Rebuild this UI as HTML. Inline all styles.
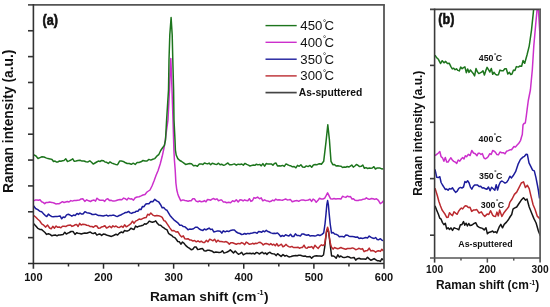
<!DOCTYPE html>
<html><head><meta charset="utf-8"><style>
html,body{margin:0;padding:0;background:#fff;}
svg{display:block;filter:blur(0.3px);}
text{font-family:"Liberation Sans",Arial,sans-serif;fill:#111;}
.lg{font-size:13.2px;}
.rg{font-size:9px;}
.rgb{font-size:8px;font-weight:bold;}
.lgb{font-size:10.3px;font-weight:bold;}
.tka{font-size:11px;font-weight:bold;}
.tkb{font-size:10.2px;font-weight:bold;}
.xla{font-size:13.7px;font-weight:bold;}
.xlb{font-size:11.95px;font-weight:bold;}
.sup{font-size:7.2px;}
.supb{font-size:6.4px;}
.yl{font-size:13.8px;font-weight:bold;}
.ylb{font-size:12.05px;font-weight:bold;}
.pl{font-size:15px;font-weight:bold;stroke:#111;stroke-width:0.6px;}
.an{font-size:8.8px;font-weight:bold;}
.an2{font-size:8.8px;font-weight:bold;}
</style></head><body>
<svg width="550" height="307" viewBox="0 0 550 307">
<defs><clipPath id="ca"><rect x="33.4" y="4.9" width="350.6" height="258.6"/></clipPath><clipPath id="cb"><rect x="434.6" y="9.4" width="105.5" height="248.6"/></clipPath></defs>
<g clip-path="url(#ca)">
<path d="M33.5,223.5 L35.6,225.7 L37.8,228.3 L39.8,229.4 L41.7,229.6 L43.3,231.0 L45.0,232.5 L46.6,234.4 L48.4,233.7 L50.1,234.4 L51.9,235.8 L53.6,235.3 L55.4,235.0 L57.0,235.8 L58.5,235.0 L60.1,235.0 L61.6,234.7 L63.2,234.4 L64.8,232.3 L66.3,234.0 L67.9,233.1 L69.4,232.5 L71.0,231.5 L73.0,231.4 L75.0,234.4 L76.6,232.7 L78.1,233.2 L79.7,233.4 L81.2,234.0 L82.8,233.5 L84.8,233.1 L86.7,233.3 L88.7,232.5 L90.3,232.1 L91.9,233.2 L93.5,233.5 L95.2,232.8 L96.8,235.1 L98.4,234.3 L100.0,234.0 L101.6,235.4 L103.3,234.1 L104.9,234.3 L106.5,235.0 L108.2,235.6 L109.8,236.0 L111.4,236.4 L112.9,235.8 L114.5,235.0 L116.0,234.3 L117.6,235.0 L119.5,233.0 L121.5,232.0 L123.1,232.7 L124.6,230.5 L126.2,231.1 L127.7,230.9 L129.3,230.1 L130.9,228.2 L132.5,229.0 L134.0,229.5 L135.6,226.0 L137.2,227.2 L139.1,226.2 L141.1,225.8 L143.0,225.2 L144.6,223.8 L146.1,224.2 L147.7,223.0 L149.2,221.1 L150.8,221.7 L152.4,222.2 L154.1,221.8 L155.7,220.9 L157.3,223.2 L159.0,225.1 L160.6,225.2 L162.2,226.8 L163.9,227.9 L165.5,229.1 L167.0,229.7 L168.5,233.3 L170.0,234.5 L171.6,235.3 L173.1,236.9 L174.7,237.6 L176.2,239.2 L177.8,241.5 L179.4,241.8 L180.9,244.2 L182.5,242.0 L184.0,243.3 L185.6,245.4 L187.6,247.1 L189.6,248.4 L191.2,249.8 L192.8,249.2 L194.4,247.1 L196.1,247.0 L197.7,249.5 L199.3,249.3 L200.9,248.8 L202.6,248.6 L204.2,250.7 L205.8,251.0 L207.5,250.3 L209.1,250.3 L210.8,250.8 L212.4,251.3 L214.1,252.6 L215.8,252.0 L217.5,252.2 L219.1,252.5 L220.8,252.3 L222.4,250.7 L224.0,253.1 L225.5,252.6 L227.1,252.0 L228.7,251.3 L230.3,249.9 L231.9,251.4 L233.5,253.0 L235.2,251.0 L236.8,252.8 L238.4,254.2 L240.0,253.6 L241.7,252.4 L243.3,254.9 L245.0,253.9 L246.7,253.2 L248.3,253.6 L250.0,253.2 L251.5,253.8 L253.1,253.2 L254.6,254.1 L256.2,252.5 L257.7,252.7 L259.2,254.0 L260.8,253.0 L262.3,252.2 L263.9,253.8 L265.4,252.9 L266.9,254.4 L268.4,252.9 L270.0,252.3 L271.5,253.6 L273.0,253.8 L274.5,253.9 L276.1,255.6 L277.6,253.7 L279.1,254.8 L281.1,256.4 L283.0,254.6 L285.0,256.2 L286.5,255.4 L288.0,256.5 L289.6,256.9 L291.1,256.5 L292.6,256.0 L294.1,255.7 L295.7,255.6 L297.2,255.8 L298.7,255.2 L300.3,255.2 L301.9,255.8 L303.5,256.3 L305.2,255.9 L306.8,256.8 L308.4,256.8 L310.0,256.5 L311.6,258.2 L313.3,256.6 L314.9,255.9 L316.5,255.8 L318.2,256.1 L319.8,256.0 L321.6,256.3 L323.5,255.0 L324.8,246.5 L325.6,239.0 L326.5,232.0 L327.6,229.0 L328.6,232.0 L329.5,239.0 L330.4,246.5 L331.6,256.0 L333.1,255.9 L334.7,256.7 L336.2,258.3 L337.8,254.8 L339.3,257.0 L340.9,256.0 L342.5,257.2 L344.1,257.4 L345.8,257.2 L347.4,256.6 L349.0,257.0 L350.7,257.9 L352.4,257.8 L354.1,257.4 L355.7,260.1 L357.4,258.7 L359.1,258.2 L360.8,259.0 L362.5,259.0 L364.1,258.9 L365.8,259.2 L367.5,257.3 L369.2,258.9 L370.8,260.3 L372.5,259.5 L374.1,258.6 L375.6,259.7 L377.2,260.7 L378.8,260.7 L380.4,261.4 L381.9,258.7 L383.5,260.3" fill="none" stroke="#151515" stroke-width="1.5" stroke-linejoin="round"/>
<path d="M33.5,215.4 L35.6,217.0 L37.8,219.3 L39.8,221.0 L41.7,223.8 L43.7,225.2 L45.7,227.1 L47.6,225.1 L49.6,228.0 L51.2,228.8 L52.8,226.4 L54.5,228.1 L56.1,226.0 L57.7,227.3 L59.3,227.0 L60.9,227.8 L62.5,226.3 L64.2,226.3 L65.8,226.5 L67.4,225.6 L69.0,225.2 L70.5,225.0 L72.0,226.4 L73.5,225.8 L75.0,224.8 L76.6,224.4 L78.1,226.5 L79.7,223.4 L81.2,225.1 L82.8,224.2 L84.8,224.4 L86.7,225.3 L88.7,225.6 L90.3,226.6 L91.9,226.5 L93.5,227.2 L95.2,225.7 L96.8,226.0 L98.4,228.3 L100.0,228.1 L101.6,226.9 L103.3,226.5 L104.9,225.8 L106.5,228.0 L108.2,227.2 L109.8,226.2 L111.4,227.7 L112.9,225.8 L114.5,226.8 L116.0,226.0 L117.6,227.2 L119.5,227.4 L121.5,226.2 L123.1,227.4 L124.6,224.8 L126.2,226.8 L127.7,226.0 L129.3,224.8 L130.9,223.7 L132.5,221.2 L134.0,223.4 L135.6,221.1 L137.2,220.3 L139.1,219.1 L141.1,219.4 L143.0,218.4 L144.6,217.7 L146.1,217.6 L147.7,214.2 L149.2,215.1 L150.8,213.0 L152.8,215.1 L154.7,215.9 L156.7,215.4 L158.6,215.7 L160.6,216.4 L162.2,217.4 L163.9,220.6 L165.5,221.3 L167.0,223.7 L168.5,225.9 L170.0,228.1 L172.0,230.7 L173.9,230.5 L175.9,232.0 L177.8,231.7 L179.8,234.9 L181.7,236.9 L183.3,235.8 L184.9,238.8 L186.4,239.0 L188.0,238.7 L189.6,239.9 L191.3,240.1 L192.9,241.0 L194.6,240.5 L196.3,241.8 L198.0,240.8 L199.6,242.0 L201.3,241.2 L203.0,242.5 L204.6,242.5 L206.3,240.4 L208.0,241.8 L209.7,239.2 L211.3,239.9 L213.0,240.8 L214.6,239.2 L216.3,242.1 L217.9,240.2 L219.5,241.5 L221.2,241.5 L222.8,241.8 L224.4,241.9 L226.1,241.6 L227.7,242.5 L229.3,244.1 L231.0,242.7 L232.6,242.8 L234.4,243.5 L236.3,244.2 L238.2,243.4 L240.0,243.8 L241.6,242.6 L243.1,243.2 L244.7,244.6 L246.2,242.1 L247.8,243.0 L249.4,244.3 L250.9,244.1 L252.5,243.3 L254.0,244.0 L255.6,243.2 L257.1,243.5 L258.6,242.5 L260.2,242.3 L261.7,243.3 L263.2,244.9 L264.7,243.8 L266.3,243.6 L267.8,243.9 L269.3,244.8 L270.8,243.6 L272.3,245.0 L273.8,244.2 L275.3,245.7 L276.8,243.6 L278.3,246.0 L279.9,245.2 L281.4,244.2 L282.9,246.8 L284.4,246.0 L285.9,244.4 L287.4,245.8 L288.9,246.7 L290.4,247.0 L291.9,246.4 L293.4,247.5 L294.9,247.5 L296.4,247.5 L297.9,247.2 L299.4,248.2 L301.0,247.6 L302.5,247.4 L304.0,245.2 L305.5,247.9 L307.0,248.3 L308.5,246.9 L310.0,247.2 L311.6,246.6 L313.3,248.6 L314.9,245.2 L316.5,247.0 L318.2,248.4 L319.8,246.3 L321.4,244.8 L323.0,245.6 L324.6,244.3 L325.6,238.0 L326.5,231.0 L327.6,227.3 L328.6,231.0 L329.5,238.0 L330.5,244.0 L331.5,247.2 L333.1,249.1 L334.6,247.5 L336.2,248.3 L337.7,248.8 L339.3,248.2 L340.9,247.5 L342.5,248.3 L344.1,248.7 L345.8,249.2 L347.4,248.5 L349.0,248.6 L350.7,248.5 L352.4,247.9 L354.1,248.5 L355.7,249.7 L357.4,249.1 L359.1,248.3 L360.8,249.2 L362.5,248.6 L364.1,251.6 L365.8,250.8 L367.5,250.5 L369.2,248.1 L370.8,250.9 L372.5,250.5 L374.1,251.0 L375.6,252.2 L377.2,251.1 L378.8,250.8 L380.4,251.4 L381.9,249.3 L383.5,251.1" fill="none" stroke="#bb2a2f" stroke-width="1.5" stroke-linejoin="round"/>
<path d="M33.5,205.6 L35.6,208.5 L37.8,209.6 L39.8,211.3 L41.7,211.8 L43.7,213.9 L45.3,215.6 L46.8,216.5 L48.4,214.1 L49.9,215.3 L51.5,216.4 L53.3,216.7 L55.2,216.6 L57.0,216.5 L58.5,216.3 L60.1,215.9 L61.7,218.8 L63.2,217.0 L64.9,217.4 L66.6,214.9 L68.3,214.3 L70.0,215.0 L71.8,216.2 L73.5,215.1 L75.2,215.5 L77.0,213.5 L78.5,214.4 L80.0,213.0 L81.5,214.1 L83.0,214.0 L84.9,211.7 L86.8,212.7 L88.7,213.0 L90.5,213.4 L92.2,214.5 L94.0,214.5 L95.5,214.1 L97.0,214.8 L98.5,215.6 L100.0,215.4 L101.6,215.7 L103.3,216.0 L104.9,215.6 L106.5,215.1 L108.2,216.1 L109.8,215.4 L111.4,215.6 L112.9,215.1 L114.5,215.4 L116.0,216.2 L117.6,216.4 L119.2,215.5 L120.7,215.0 L122.3,214.1 L123.8,213.4 L125.4,212.5 L127.0,212.4 L128.5,211.4 L130.1,212.9 L131.6,213.4 L133.2,212.5 L134.8,212.3 L136.3,211.2 L137.9,211.2 L139.4,209.3 L141.0,209.6 L142.5,206.4 L144.0,206.7 L145.5,204.3 L147.0,203.7 L148.9,203.7 L150.9,201.4 L152.8,201.7 L154.8,199.3 L156.7,200.8 L158.6,201.8 L160.6,204.7 L162.2,207.8 L163.9,207.6 L165.5,209.6 L167.0,210.3 L168.5,212.8 L170.0,215.4 L172.0,217.8 L173.9,219.8 L175.9,221.3 L177.8,222.8 L179.8,225.2 L181.7,225.2 L183.3,226.6 L184.9,226.7 L186.4,228.1 L188.0,229.8 L189.6,229.1 L191.5,229.3 L193.5,228.8 L195.4,227.2 L197.4,227.2 L199.3,229.0 L201.3,230.1 L202.9,230.4 L204.4,229.0 L206.0,229.9 L207.5,229.0 L209.1,228.1 L210.7,229.5 L212.2,229.1 L213.8,231.9 L215.3,231.6 L216.9,231.1 L218.5,230.9 L220.2,231.2 L221.8,233.1 L223.4,230.8 L225.1,231.9 L226.7,231.1 L228.7,231.6 L230.6,230.4 L232.6,230.1 L234.4,229.9 L236.3,232.0 L238.2,233.0 L240.0,233.5 L241.6,234.5 L243.1,234.2 L244.7,233.5 L246.2,234.2 L247.8,233.4 L249.4,233.7 L250.9,233.3 L252.5,233.0 L254.0,232.5 L255.6,232.6 L257.1,233.2 L258.6,231.5 L260.2,231.8 L261.7,232.3 L263.2,230.9 L264.7,231.8 L266.3,230.3 L267.8,231.5 L269.3,232.0 L270.9,232.9 L272.6,233.4 L274.2,233.3 L275.8,233.5 L277.5,232.9 L279.1,234.6 L280.7,236.5 L282.4,235.5 L284.0,236.3 L285.6,234.7 L287.3,235.6 L288.9,236.0 L290.5,234.3 L292.2,236.5 L293.8,236.5 L295.4,233.9 L297.1,235.5 L298.7,235.4 L300.3,236.1 L301.9,234.0 L303.5,234.0 L305.2,234.8 L306.8,235.3 L308.4,234.7 L310.0,236.0 L311.6,235.8 L313.1,235.7 L314.7,235.9 L316.2,235.7 L317.8,234.8 L319.8,235.5 L321.7,234.6 L323.7,232.9 L325.0,224.0 L326.0,214.0 L326.8,205.0 L327.6,200.6 L328.4,205.0 L329.2,214.0 L330.2,224.0 L331.5,232.9 L333.1,232.5 L334.6,234.0 L336.2,234.3 L337.7,235.1 L339.3,236.8 L340.9,236.6 L342.5,236.6 L344.1,236.9 L345.8,235.0 L347.4,235.2 L349.0,236.2 L350.7,236.5 L352.4,236.6 L354.1,236.7 L355.7,237.2 L357.4,236.9 L359.1,238.5 L360.8,238.1 L362.5,238.4 L364.1,238.0 L365.8,237.5 L367.5,237.9 L369.2,236.1 L370.8,237.2 L372.5,238.1 L374.1,238.5 L375.6,237.5 L377.2,239.4 L378.8,239.7 L380.4,238.7 L381.9,240.1 L383.5,240.7" fill="none" stroke="#1c1c9c" stroke-width="1.5" stroke-linejoin="round"/>
<path d="M33.5,200.8 L35.2,200.1 L37.0,200.0 L38.5,200.3 L40.0,199.8 L41.6,201.7 L43.1,202.4 L44.7,203.7 L46.3,202.4 L48.0,202.4 L49.6,202.0 L51.8,202.4 L54.0,203.0 L55.8,203.9 L57.5,203.7 L59.3,203.7 L60.9,202.6 L62.4,201.7 L64.0,202.5 L65.7,202.0 L67.3,201.5 L69.0,202.0 L70.8,200.6 L72.5,201.1 L74.2,200.4 L76.0,200.5 L77.7,200.2 L79.4,200.1 L81.1,198.9 L82.8,198.8 L84.8,201.4 L86.7,199.8 L88.7,200.8 L90.5,201.5 L92.2,200.4 L94.0,200.0 L95.5,201.1 L97.0,198.2 L98.5,199.5 L100.0,200.3 L101.6,200.2 L103.1,200.2 L104.7,201.4 L106.2,199.4 L107.8,198.8 L109.4,200.4 L110.9,200.3 L112.5,200.9 L114.0,200.9 L115.6,200.8 L117.8,200.0 L120.0,199.5 L121.8,199.7 L123.6,198.1 L125.4,198.8 L126.9,199.9 L128.5,198.0 L130.0,199.0 L131.7,198.8 L133.5,200.1 L135.2,197.8 L137.1,197.0 L139.1,196.7 L141.1,195.9 L143.0,195.0 L145.0,194.5 L147.0,192.0 L148.5,191.0 L150.0,190.0 L152.0,186.0 L154.0,181.0 L156.0,175.5 L158.1,170.5 L160.2,164.0 L162.2,156.3 L164.2,147.0 L165.6,138.0 L166.6,130.0 L168.0,120.0 L169.5,90.0 L170.2,70.0 L170.8,58.5 L171.3,70.0 L172.0,90.0 L173.0,120.0 L173.9,150.0 L174.4,160.0 L175.2,170.0 L175.9,183.0 L176.8,190.0 L177.8,193.9 L178.8,196.7 L180.8,200.8 L182.9,199.9 L185.0,200.5 L186.5,200.8 L188.1,201.2 L189.6,200.8 L191.2,200.8 L192.8,198.8 L194.4,198.8 L196.1,201.1 L197.9,201.8 L199.6,201.0 L201.3,201.7 L202.9,201.6 L204.4,200.6 L206.0,201.8 L207.5,199.5 L209.1,199.8 L210.7,200.2 L212.2,199.0 L213.8,198.6 L215.3,199.6 L216.9,198.8 L218.5,200.7 L220.2,200.1 L221.8,200.1 L223.4,202.1 L225.1,202.0 L226.7,202.7 L228.7,202.3 L230.6,202.8 L232.6,200.8 L234.4,201.6 L236.3,199.8 L238.2,202.0 L240.0,199.8 L241.6,200.0 L243.1,200.9 L244.7,199.8 L246.2,200.6 L247.8,200.8 L249.4,198.7 L250.9,201.4 L252.5,200.5 L254.0,197.6 L255.6,198.2 L257.6,197.1 L259.6,198.8 L261.2,197.8 L262.8,200.8 L264.5,199.8 L266.1,200.7 L267.7,200.9 L269.3,201.7 L270.9,201.3 L272.6,200.1 L274.2,200.8 L275.8,199.1 L277.5,200.1 L279.1,199.8 L280.7,200.1 L282.4,200.2 L284.0,199.6 L285.6,199.0 L287.3,199.9 L288.9,199.8 L290.5,199.6 L292.2,201.7 L293.8,201.2 L295.4,200.7 L297.1,200.6 L298.7,201.3 L300.3,200.4 L301.9,199.9 L303.5,200.1 L305.2,200.4 L306.8,200.3 L308.4,200.0 L310.0,199.2 L311.6,201.4 L313.1,199.1 L314.7,200.1 L316.2,202.3 L317.8,200.6 L319.5,198.3 L321.2,199.0 L322.9,199.0 L324.6,198.3 L326.1,195.7 L327.6,192.8 L330.5,198.7 L332.3,199.1 L334.0,198.5 L335.8,199.0 L337.5,198.7 L339.3,198.7 L340.9,199.1 L342.5,196.3 L344.1,196.9 L345.8,197.4 L347.4,196.1 L349.0,196.7 L350.5,196.6 L352.0,199.0 L353.5,198.7 L355.0,200.2 L356.6,200.6 L358.2,200.5 L359.9,199.9 L361.5,199.9 L363.1,199.2 L364.7,199.1 L366.4,197.8 L368.0,199.0 L369.7,199.3 L371.4,198.4 L373.1,198.7 L374.7,199.4 L376.4,198.7 L378.4,200.4 L380.3,203.6 L381.9,202.7 L383.5,200.6" fill="none" stroke="#cc30cc" stroke-width="1.5" stroke-linejoin="round"/>
<path d="M33.5,154.7 L36.0,156.0 L38.0,158.5 L40.0,157.6 L42.0,156.8 L44.0,157.0 L46.0,157.9 L48.0,158.6 L50.0,158.9 L52.0,159.5 L53.5,161.5 L55.0,161.0 L56.5,162.1 L58.0,161.9 L59.5,160.9 L61.0,161.2 L62.5,160.8 L64.0,160.5 L65.8,158.8 L67.5,161.5 L69.2,160.9 L71.0,160.0 L72.7,158.8 L74.3,161.3 L76.0,161.0 L78.0,160.5 L80.0,160.3 L82.0,161.1 L84.0,161.0 L86.0,161.8 L88.0,161.9 L89.8,160.8 L91.5,162.3 L93.2,164.1 L95.0,163.0 L96.7,162.0 L98.3,161.1 L100.0,161.5 L101.7,160.4 L103.3,160.7 L105.0,162.0 L106.7,162.3 L108.3,163.5 L110.0,161.9 L111.9,163.1 L113.7,163.8 L115.6,164.4 L117.6,164.7 L119.6,161.1 L121.4,161.1 L123.2,161.4 L125.0,162.5 L127.2,163.5 L129.3,163.5 L131.3,164.3 L133.2,163.2 L135.2,164.4 L137.1,162.4 L139.0,162.5 L141.0,161.8 L143.0,160.5 L145.0,161.0 L147.0,161.0 L148.9,159.4 L150.8,160.1 L152.8,159.2 L154.8,158.6 L156.8,156.2 L158.7,154.7 L160.7,150.5 L162.6,147.8 L164.4,145.4 L165.5,140.0 L166.6,120.0 L168.5,90.0 L169.0,60.0 L169.8,35.0 L171.1,17.5 L172.2,35.0 L172.8,60.0 L173.6,90.0 L174.0,120.0 L175.0,140.0 L175.4,150.0 L176.2,155.0 L177.8,158.6 L179.8,160.5 L181.7,161.5 L183.6,162.8 L185.6,164.4 L187.6,163.9 L189.6,163.5 L191.5,163.8 L193.5,165.7 L195.4,165.4 L197.4,166.2 L199.3,164.1 L201.3,163.9 L202.9,164.5 L204.4,162.9 L206.0,163.5 L207.5,163.9 L209.1,163.1 L210.7,164.7 L212.2,163.3 L213.8,163.8 L215.3,164.3 L216.9,164.4 L218.5,163.2 L220.1,164.7 L221.6,164.2 L223.2,165.2 L224.8,165.0 L226.4,163.9 L227.9,163.0 L229.5,164.7 L231.0,164.8 L232.6,164.4 L234.4,163.9 L236.3,165.2 L238.2,164.2 L240.0,164.4 L241.7,164.0 L243.3,165.1 L245.0,163.4 L246.7,164.4 L248.4,165.1 L250.0,166.0 L251.7,165.4 L253.3,165.1 L254.9,165.3 L256.4,164.2 L258.0,164.9 L259.6,164.4 L261.3,165.8 L262.9,163.6 L264.6,166.2 L266.3,163.5 L268.0,164.1 L269.6,164.1 L271.3,163.9 L272.9,165.2 L274.4,163.5 L276.0,163.1 L277.5,166.0 L279.1,165.8 L280.8,166.0 L282.6,165.4 L284.3,166.4 L286.0,163.9 L287.6,164.7 L289.2,165.4 L290.8,165.8 L292.5,166.8 L294.2,166.5 L295.9,167.8 L297.5,165.4 L299.2,166.3 L300.9,164.8 L302.6,167.0 L304.5,167.3 L306.3,165.9 L308.1,166.6 L310.0,165.4 L311.7,167.2 L313.4,165.0 L315.1,164.6 L316.8,164.7 L318.3,164.1 L319.9,163.7 L321.4,164.3 L323.7,161.3 L326.0,141.9 L327.8,124.8 L329.4,139.6 L331.0,161.3 L332.8,164.7 L334.4,164.5 L336.1,165.9 L337.7,165.7 L339.3,166.1 L340.9,166.2 L342.6,167.5 L344.2,167.0 L345.7,167.2 L347.2,166.5 L348.8,167.0 L350.3,166.1 L351.8,165.0 L353.3,167.1 L354.9,166.0 L356.4,164.5 L357.9,165.2 L359.5,166.6 L361.2,166.3 L362.8,165.0 L364.4,168.3 L366.0,167.6 L367.7,168.5 L369.3,168.1 L370.8,168.3 L372.3,168.0 L373.9,166.7 L375.4,169.0 L376.9,168.1 L378.4,168.1 L380.1,168.1 L381.8,168.9 L383.5,168.8" fill="none" stroke="#1d751d" stroke-width="1.5" stroke-linejoin="round"/>
</g>
<path d="M28.00,4.90 L384.90,4.90" stroke="#555" stroke-width="1.7" fill="none"/>
<path d="M384.00,4.90 L384.00,268.70" stroke="#555" stroke-width="1.8" fill="none"/>
<path d="M33.40,4.10 L33.40,268.70" stroke="#333" stroke-width="1.6" fill="none"/>
<path d="M28.00,263.50 L384.00,263.50" stroke="#2a2a2a" stroke-width="1.6" fill="none"/>
<path d="M28.00,237.64 L33.40,237.64" stroke="#333" stroke-width="1.6" fill="none"/>
<path d="M28.00,211.78 L33.40,211.78" stroke="#333" stroke-width="1.6" fill="none"/>
<path d="M28.00,185.92 L33.40,185.92" stroke="#333" stroke-width="1.6" fill="none"/>
<path d="M28.00,160.06 L33.40,160.06" stroke="#333" stroke-width="1.6" fill="none"/>
<path d="M28.00,134.20 L33.40,134.20" stroke="#333" stroke-width="1.6" fill="none"/>
<path d="M28.00,108.34 L33.40,108.34" stroke="#333" stroke-width="1.6" fill="none"/>
<path d="M28.00,82.48 L33.40,82.48" stroke="#333" stroke-width="1.6" fill="none"/>
<path d="M28.00,56.62 L33.40,56.62" stroke="#333" stroke-width="1.6" fill="none"/>
<path d="M28.00,30.76 L33.40,30.76" stroke="#333" stroke-width="1.6" fill="none"/>
<path d="M68.46,263.50 L68.46,266.50" stroke="#2a2a2a" stroke-width="1.5" fill="none"/>
<path d="M103.52,263.50 L103.52,268.70" stroke="#2a2a2a" stroke-width="1.5" fill="none"/>
<path d="M138.58,263.50 L138.58,266.50" stroke="#2a2a2a" stroke-width="1.5" fill="none"/>
<path d="M173.64,263.50 L173.64,268.70" stroke="#2a2a2a" stroke-width="1.5" fill="none"/>
<path d="M208.70,263.50 L208.70,266.50" stroke="#2a2a2a" stroke-width="1.5" fill="none"/>
<path d="M243.76,263.50 L243.76,268.70" stroke="#2a2a2a" stroke-width="1.5" fill="none"/>
<path d="M278.82,263.50 L278.82,266.50" stroke="#2a2a2a" stroke-width="1.5" fill="none"/>
<path d="M313.88,263.50 L313.88,268.70" stroke="#2a2a2a" stroke-width="1.5" fill="none"/>
<path d="M348.94,263.50 L348.94,266.50" stroke="#2a2a2a" stroke-width="1.5" fill="none"/>
<g clip-path="url(#cb)">
<path d="M435.0,205.9 L436.7,210.2 L438.4,214.3 L439.8,218.2 L441.1,219.2 L442.5,222.6 L443.9,224.6 L445.3,223.2 L446.7,228.9 L448.1,227.8 L449.5,229.4 L450.9,227.9 L452.5,230.4 L454.0,227.8 L455.6,228.4 L457.2,228.9 L458.8,229.8 L460.4,224.7 L461.9,224.7 L463.5,221.6 L464.8,225.2 L466.1,223.2 L467.4,226.0 L468.7,223.5 L470.0,225.5 L471.4,225.3 L472.8,224.4 L474.2,223.4 L475.7,222.7 L477.4,226.1 L478.9,227.1 L480.3,227.8 L482.5,228.4 L484.2,230.0 L486.0,227.8 L487.4,233.8 L488.8,232.4 L491.1,231.8 L492.5,231.0 L493.9,232.4 L495.4,231.7 L496.8,232.9 L499.1,227.2 L500.8,224.4 L502.5,227.8 L504.2,224.4 L506.5,222.1 L508.7,219.2 L510.3,216.5 L511.7,214.5 L513.0,209.1 L514.4,208.1 L516.7,207.0 L519.0,203.5 L521.3,200.1 L523.5,197.8 L525.4,200.1 L527.0,199.0 L529.2,207.0 L531.5,212.7 L533.8,218.4 L536.1,223.0 L538.4,231.0 L540.2,235.5 L541.0,237.0" fill="none" stroke="#151515" stroke-width="1.5" stroke-linejoin="round"/>
<path d="M435.0,188.1 L437.3,195.5 L438.9,201.5 L440.5,205.9 L442.1,210.0 L443.6,212.2 L445.1,214.3 L446.7,217.4 L448.1,217.3 L449.5,212.7 L450.9,214.3 L452.5,215.6 L454.0,211.7 L455.6,213.1 L457.2,214.3 L458.6,211.3 L460.0,209.4 L461.4,208.0 L462.7,208.9 L464.0,207.1 L465.3,205.7 L466.6,205.9 L468.3,207.5 L470.0,207.3 L471.7,211.4 L473.4,210.1 L475.1,209.9 L476.8,209.6 L479.1,213.0 L481.4,211.8 L483.1,214.7 L484.8,216.4 L487.1,214.1 L488.8,214.5 L490.5,210.7 L492.8,215.3 L494.2,216.3 L495.6,216.4 L496.9,212.1 L498.3,215.9 L499.6,210.1 L501.9,216.4 L504.2,212.4 L506.5,209.6 L508.7,206.7 L509.8,202.4 L512.1,199.0 L514.4,194.4 L516.7,192.1 L519.0,187.6 L521.3,183.0 L523.5,181.8 L525.4,187.6 L527.4,185.3 L529.2,188.7 L531.1,196.7 L533.1,204.7 L535.0,209.2 L537.2,216.1 L539.5,218.4 L541.0,220.0" fill="none" stroke="#bb2a2f" stroke-width="1.5" stroke-linejoin="round"/>
<path d="M435.0,169.3 L436.7,177.2 L438.4,177.6 L439.8,176.7 L441.1,182.5 L442.5,185.0 L443.9,187.1 L445.3,189.4 L446.7,189.1 L448.1,190.2 L449.5,188.6 L450.9,189.1 L452.5,187.8 L454.0,190.3 L455.6,192.4 L457.2,191.2 L458.8,188.3 L460.4,187.4 L461.9,188.0 L463.5,187.0 L464.9,181.6 L466.2,182.4 L467.6,180.8 L469.0,182.8 L470.4,187.1 L471.8,189.1 L473.2,186.5 L474.6,184.9 L476.0,185.0 L477.6,185.1 L479.1,186.5 L480.7,186.2 L482.3,188.1 L483.9,187.8 L485.4,188.8 L486.9,189.3 L488.5,187.0 L490.1,190.7 L491.6,187.3 L493.2,188.7 L494.8,190.2 L496.2,184.7 L497.6,190.0 L499.0,185.0 L500.5,181.8 L502.0,181.0 L503.5,182.0 L505.0,183.1 L506.6,182.3 L508.3,179.8 L509.9,176.2 L511.5,177.9 L513.1,175.8 L515.6,171.7 L518.0,164.4 L520.4,159.5 L522.9,157.1 L524.5,156.3 L526.1,154.3 L527.4,154.6 L529.0,162.8 L531.0,166.8 L532.6,170.1 L534.3,170.9 L535.9,177.4 L537.5,185.5 L538.3,190.0 L539.5,198.5" fill="none" stroke="#1c1c9c" stroke-width="1.5" stroke-linejoin="round"/>
<path d="M435.0,155.7 L436.7,154.3 L438.4,153.0 L439.8,151.5 L441.1,156.7 L442.5,157.8 L443.9,161.2 L445.3,157.4 L446.7,162.0 L448.1,162.0 L449.5,159.6 L450.9,157.8 L452.3,160.0 L453.7,161.4 L455.1,162.0 L456.7,163.4 L458.2,160.0 L459.8,161.1 L461.4,158.8 L462.7,157.6 L464.0,159.0 L465.3,155.8 L466.6,156.7 L468.3,154.4 L470.1,155.5 L471.8,150.5 L473.5,153.0 L475.3,153.7 L477.0,155.7 L478.3,153.2 L479.6,153.3 L481.0,154.5 L482.3,153.6 L483.9,157.8 L485.4,158.8 L486.9,157.9 L488.3,156.4 L489.8,153.7 L491.2,154.5 L492.7,150.5 L494.1,151.2 L495.5,152.3 L496.9,154.6 L498.4,154.8 L500.0,152.0 L501.7,152.7 L503.3,152.7 L505.0,153.8 L506.6,151.2 L508.3,150.6 L509.9,149.8 L511.5,149.8 L514.0,146.5 L515.4,147.1 L516.7,145.5 L518.8,143.3 L520.6,140.3 L521.5,137.0 L522.3,134.5 L523.0,125.0 L524.0,123.5 L525.3,123.0 L526.3,116.0 L527.2,108.8 L528.3,100.5 L530.4,90.0 L532.3,70.0 L533.8,46.0 L535.6,25.5 L537.2,8.4 L537.8,4.0 L538.4,8.4 L539.5,27.8 L540.5,45.0" fill="none" stroke="#cc30cc" stroke-width="1.5" stroke-linejoin="round"/>
<path d="M435.0,55.1 L436.7,57.8 L438.4,59.3 L440.5,63.5 L442.2,60.7 L444.0,62.8 L445.7,61.4 L447.4,63.4 L449.2,63.2 L450.9,66.6 L452.3,68.9 L453.7,68.2 L455.1,69.7 L456.5,68.8 L457.9,70.4 L459.3,70.9 L460.7,67.1 L462.1,68.7 L463.5,67.6 L464.9,66.8 L466.3,72.7 L467.6,68.9 L469.0,72.4 L470.4,70.0 L471.8,71.8 L473.2,73.4 L474.6,75.9 L476.0,68.6 L477.4,71.8 L478.8,73.6 L480.2,72.9 L481.6,72.2 L483.0,70.7 L484.4,75.0 L485.7,70.9 L487.1,67.4 L488.5,69.7 L489.9,72.0 L491.3,68.5 L492.7,74.3 L494.1,72.3 L495.5,74.4 L496.9,75.0 L498.4,74.7 L500.0,70.1 L501.6,70.7 L503.2,70.8 L504.8,68.8 L506.3,68.7 L507.8,74.0 L509.4,72.4 L510.7,74.5 L512.0,74.0 L513.5,70.1 L514.9,70.5 L516.4,66.6 L518.2,67.1 L520.0,66.0 L521.6,66.2 L523.1,60.5 L524.7,63.3 L527.0,55.0 L529.2,46.1 L531.5,30.1 L533.4,11.8 L534.0,5.0" fill="none" stroke="#1d751d" stroke-width="1.5" stroke-linejoin="round"/>
</g>
<path d="M430.00,9.40 L541.00,9.40" stroke="#444" stroke-width="1.6" fill="none"/>
<path d="M540.10,9.40 L540.10,262.60" stroke="#606060" stroke-width="1.8" fill="none"/>
<path d="M434.60,8.60 L434.60,262.60" stroke="#3a3a3a" stroke-width="1.6" fill="none"/>
<path d="M430.00,258.00 L540.10,258.00" stroke="#555" stroke-width="1.6" fill="none"/>
<path d="M430.00,65.40 L434.60,65.40" stroke="#3a3a3a" stroke-width="1.6" fill="none"/>
<path d="M430.00,122.30 L434.60,122.30" stroke="#3a3a3a" stroke-width="1.6" fill="none"/>
<path d="M430.00,178.60 L434.60,178.60" stroke="#3a3a3a" stroke-width="1.6" fill="none"/>
<path d="M430.00,235.20 L434.60,235.20" stroke="#3a3a3a" stroke-width="1.6" fill="none"/>
<path d="M460.98,258.00 L460.98,260.60" stroke="#555" stroke-width="1.5" fill="none"/>
<path d="M487.35,258.00 L487.35,262.60" stroke="#555" stroke-width="1.5" fill="none"/>
<path d="M513.73,258.00 L513.73,260.60" stroke="#555" stroke-width="1.5" fill="none"/>
<path d="M265.5,25.6 H296.7" stroke="#1d751d" stroke-width="1.4"/>
<text class="lg"><tspan x="300.3" y="29.9">450</tspan><tspan x="323.3" y="26.7" class="rg">&#730;</tspan><tspan x="324.6" y="29.9">C</tspan></text>
<path d="M265.5,42.3 H296.7" stroke="#cc30cc" stroke-width="1.4"/>
<text class="lg"><tspan x="300.3" y="46.6">400</tspan><tspan x="323.3" y="43.4" class="rg">&#730;</tspan><tspan x="324.6" y="46.6">C</tspan></text>
<path d="M265.5,59.2 H296.7" stroke="#1c1c9c" stroke-width="1.4"/>
<text class="lg"><tspan x="300.3" y="63.5">350</tspan><tspan x="323.3" y="60.3" class="rg">&#730;</tspan><tspan x="324.6" y="63.5">C</tspan></text>
<path d="M265.5,75.9 H296.7" stroke="#bb2a2f" stroke-width="1.4"/>
<text class="lg"><tspan x="300.3" y="80.2">300</tspan><tspan x="323.3" y="77.0" class="rg">&#730;</tspan><tspan x="324.6" y="80.2">C</tspan></text>
<path d="M265.5,92.6 H296.7" stroke="#444" stroke-width="1.7"/>
<text x="298.8" y="95.6" class="lgb">As-sputtered</text>
<text x="33.4" y="281" class="tka" text-anchor="middle">100</text>
<text x="103.5" y="281" class="tka" text-anchor="middle">200</text>
<text x="173.6" y="281" class="tka" text-anchor="middle">300</text>
<text x="243.8" y="281" class="tka" text-anchor="middle">400</text>
<text x="313.9" y="281" class="tka" text-anchor="middle">500</text>
<text x="384.0" y="281" class="tka" text-anchor="middle">600</text>
<text x="434.6" y="273.1" class="tkb" text-anchor="middle">100</text>
<text x="487.4" y="273.1" class="tkb" text-anchor="middle">200</text>
<text x="540.1" y="273.1" class="tkb" text-anchor="middle">300</text>
<text x="149.9" y="300.5" class="xla">Raman shift (cm<tspan dx="0.8" dy="-5.6" class="sup">-1</tspan><tspan dx="0.3" dy="5.6">)</tspan></text>
<text x="435.9" y="289" class="xlb">Raman shift (cm<tspan dx="0.6" dy="-4.4" class="supb">-1</tspan><tspan dx="0.2" dy="4.4">)</tspan></text>
<text transform="translate(13.0,193.0) rotate(-90)" class="yl">Raman intensity (a.u.)</text>
<text transform="translate(422.3,195.8) rotate(-90)" class="ylb">Raman intensity (a.u.)</text>
<text transform="translate(42.6,24.6) scale(0.84,1)" class="pl">(a)</text>
<text transform="translate(438.3,24.2) scale(0.84,1)" class="pl">(b)</text>
<text class="an"><tspan x="478.8" y="61.3">450</tspan><tspan x="494.0" y="58.8" class="rgb">&#730;</tspan><tspan x="495.7" y="61.3">C</tspan></text>
<text class="an"><tspan x="478.6" y="141.6">400</tspan><tspan x="493.8" y="139.1" class="rgb">&#730;</tspan><tspan x="495.5" y="141.6">C</tspan></text>
<text class="an"><tspan x="479.0" y="178.8">350</tspan><tspan x="494.2" y="176.3" class="rgb">&#730;</tspan><tspan x="495.9" y="178.8">C</tspan></text>
<text class="an"><tspan x="480.8" y="207.7">300</tspan><tspan x="496.0" y="205.2" class="rgb">&#730;</tspan><tspan x="497.7" y="207.7">C</tspan></text>
<text x="458.3" y="247" class="an2">As-sputtered</text>
</svg>
</body></html>
